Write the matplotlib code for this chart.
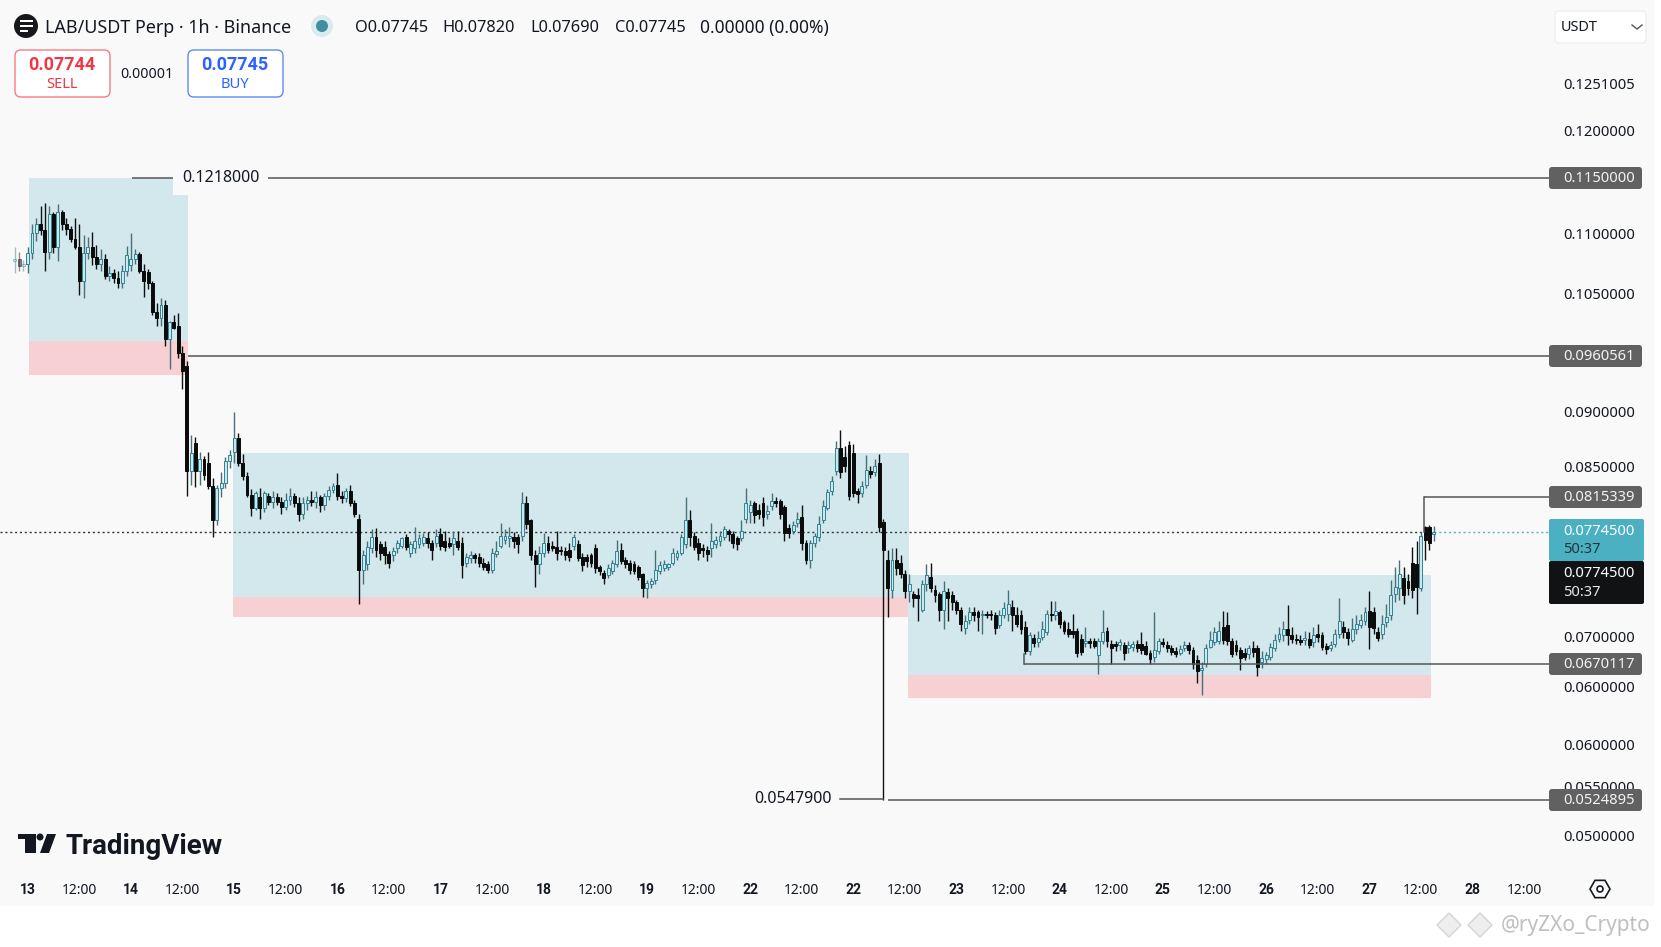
import numpy as np
import matplotlib
matplotlib.use("Agg")
import matplotlib.pyplot as plt
from matplotlib.colors import to_rgba
from matplotlib.patches import Rectangle, FancyBboxPatch, Circle, Polygon, RegularPolygon
from matplotlib.transforms import Affine2D, ScaledTranslation

plt.rcParams['font.family'] = ['Noto Sans', 'DejaVu Sans']

W, H = 1661, 947

# hourly candles, in units of 0.0001 USDT, first candle is 3h before the "13" tick
opens = [
    1078,1080,1074,1076,1085,1102,1110,1104,1086,1118,
    1090,1120,1110,1105,1097,1090,1062,1085,1090,1082,
    1076,1080,1066,1068,1064,1060,1070,1075,1080,1084,
    1070,1069,1060,1025,1016,1035,985,1010,1005,965,
    950,846,873,846,858,855,829,789,826,832,
    856,865,877,855,840,818,803,815,803,816,
    809,815,810,804,812,816,808,795,808,812,
    810,815,806,816,824,830,816,814,822,808,
    790,748,752,763,771,766,764,759,758,763,
    765,771,760,763,766,767,770,767,767,773,
    768,767,766,768,767,753,756,758,757,753,
    752,748,759,765,769,770,771,771,772,808,
    788,758,752,760,767,765,764,762,761,762,
    765,766,757,757,758,763,750,746,744,747,
    752,762,755,753,752,750,745,735,738,741,
    747,749,750,753,757,760,766,788,772,767,
    763,762,763,766,768,771,776,773,770,770,
    790,798,808,800,808,796,805,811,811,804,
    779,776,785,792,767,755,767,771,788,803,
    822,847,868,860,871,864,822,820,830,847,
    845,855,786,755,734,755,753,745,733,731,
    730,720,738,743,734,731,720,732,730,725,
    720,707,713,718,718,716,717,717,716,709,
    716,717,722,716,716,708,685,700,695,701,
    704,717,716,718,711,706,705,705,699,694,
    697,696,680,697,705,693,693,692,692,688,
    690,693,693,691,683,678,685,695,692,689,
    685,683,689,692,686,675,665,670,690,695,
    697,708,709,697,692,686,683,682,688,688,
    672,676,678,688,699,702,706,702,699,698,
    698,699,695,703,702,691,688,693,703,708,
    704,698,706,709,712,719,718,704,703,711,
    716,731,735,742,740,753,752,735,780,780,
    773,
]
highs = [
    1090,1086,1079,1090,1110,1115,1125,1128,1125,1120,
    1127,1122,1115,1108,1115,1110,1100,1098,1103,1092,
    1088,1084,1074,1072,1070,1075,1091,1102,1088,1086,
    1076,1072,1062,1038,1045,1042,1012,1020,1023,975,
    955,880,878,865,861,865,838,830,845,860,
    866,901,882,863,845,825,822,826,822,820,
    822,820,815,820,826,820,815,815,816,823,
    822,818,820,828,832,844,822,826,830,812,
    796,762,768,778,779,768,768,761,764,769,
    771,773,768,780,773,774,775,769,778,779,
    776,771,776,776,771,760,761,760,760,756,
    754,763,768,785,778,780,775,773,821,817,
    790,762,765,774,772,768,776,765,764,767,
    773,769,760,759,760,766,751,748,752,755,
    769,767,757,755,754,751,746,741,742,762,
    754,755,753,763,762,773,815,800,775,770,
    766,765,785,772,776,781,778,776,772,788,
    826,812,811,807,815,806,820,815,813,806,
    784,787,798,806,769,769,774,793,812,825,
    840,875,885,870,875,872,826,834,862,852,
    858,863,790,762,763,763,758,748,745,733,
    735,741,752,753,737,732,740,735,733,727,
    722,716,722,722,720,720,719,720,718,720,
    725,734,727,722,720,712,704,703,705,712,
    720,726,726,720,713,711,717,707,703,708,
    700,700,700,720,708,698,697,699,695,696,
    697,698,704,697,686,718,700,700,697,692,
    690,692,697,695,690,680,672,693,705,708,
    712,719,718,700,698,690,688,692,696,692,
    685,684,694,703,708,712,723,708,703,702,
    705,704,708,710,704,694,697,706,728,712,
    707,714,716,717,722,733,722,708,716,724,
    741,750,755,750,745,764,768,775,781,783,
    782,
]
lows = [
    1068,1070,1070,1068,1080,1095,1100,1070,1080,1085,
    1078,1104,1100,1094,1088,1050,1045,1080,1075,1072,
    1070,1063,1062,1060,1056,1056,1066,1070,1076,1068,
    1047,1055,1020,1004,1005,975,947,1000,958,925,
    817,830,827,830,836,825,771,783,815,826,
    850,855,852,836,815,793,800,790,798,806,
    803,806,796,800,806,804,787,790,800,805,
    802,798,800,812,820,812,808,810,805,792,
    724,738,748,760,757,755,752,749,754,760,
    763,762,757,760,763,765,763,755,764,762,
    761,763,758,762,742,750,753,753,750,748,
    746,746,757,763,766,764,763,760,768,778,
    755,736,745,757,760,761,755,758,755,754,
    762,754,747,750,750,746,744,738,742,745,
    750,752,749,745,745,741,729,728,735,738,
    745,747,748,751,755,758,763,765,762,755,
    757,754,757,763,765,769,768,763,762,768,
    785,785,785,790,782,790,800,804,790,768,
    770,773,780,762,752,749,764,768,785,800,
    818,842,838,845,812,815,808,815,826,838,
    840,775,525,715,728,744,742,728,725,722,
    712,718,733,732,725,712,706,712,720,717,
    705,703,710,712,705,703,714,713,703,707,
    714,712,705,708,703,682,680,690,690,698,
    702,712,713,707,703,701,700,678,680,690,
    688,688,662,693,690,670,685,686,675,683,
    685,684,682,680,670,672,682,690,684,680,
    678,680,685,682,666,654,644,668,688,692,
    693,693,692,678,680,665,675,676,678,660,
    667,670,675,685,695,696,692,694,693,692,
    692,688,690,695,686,682,685,690,700,700,
    692,695,703,707,709,687,703,696,699,708,
    713,725,727,724,730,728,717,733,755,762,
    768,
]
closes = [
    1080,1074,1076,1085,1102,1110,1104,1086,1118,1090,
    1120,1110,1105,1097,1090,1062,1085,1090,1082,1076,
    1080,1066,1068,1064,1060,1070,1083,1080,1084,1070,
    1062,1060,1025,1016,1035,985,1010,1002,965,945,
    846,864,846,858,842,829,789,826,832,856,
    862,877,855,840,818,803,820,803,820,809,
    815,810,804,812,816,808,795,808,812,810,
    815,806,816,824,828,816,814,822,808,796,
    748,758,764,771,762,760,758,753,761,767,
    770,764,766,768,770,771,767,762,772,765,
    764,765,770,764,751,757,758,756,753,750,
    748,760,761,772,772,772,768,766,808,784,
    758,752,760,767,762,763,760,761,758,757,
    771,756,751,754,753,749,747,742,749,753,
    761,754,752,748,747,743,735,739,740,748,
    751,752,752,760,760,771,788,771,764,760,
    762,759,768,769,772,778,773,767,766,776,
    808,806,794,795,792,799,811,808,796,774,
    774,783,790,767,755,767,772,784,805,821,
    835,868,845,852,816,820,819,828,848,843,
    852,780,762,735,755,749,745,733,738,728,
    728,738,744,735,730,720,733,728,725,720,
    710,712,718,716,715,717,716,716,707,716,
    721,724,716,710,706,685,702,694,700,706,
    717,716,719,710,705,703,703,683,684,697,
    694,691,696,704,696,688,691,695,683,692,
    693,689,686,682,676,686,696,693,688,684,
    682,687,692,686,670,664,667,688,698,704,
    705,698,696,682,685,677,678,688,684,668,
    677,680,690,698,703,706,702,699,698,695,
    700,692,702,701,690,687,692,703,712,704,
    700,706,710,713,718,708,707,700,710,715,
    730,736,745,730,735,734,736,772,769,767,
    775,
]

# right axis, some labels in the picture do not follow their spacing
price_ticks = [0.125, 0.12, 0.11, 0.105, 0.09, 0.085, 0.07, 0.065, 0.06, 0.055, 0.05]
price_labels = ['0.1251005', '0.1200000', '0.1100000', '0.1050000', '0.0900000', '0.0850000',
                '0.0700000', '0.0600000', '0.0600000', '0.0550000', '0.0500000']
# price scale of the picture is uneven, so it is pinned on these levels
scale_prices = [0.0466, 0.05, 0.0524895, 0.055, 0.06, 0.065, 0.0670117, 0.07, 0.07745, 0.0815339,
                0.085, 0.09, 0.0960561, 0.105, 0.11, 0.115, 0.12, 0.125, 0.1335]
scale_rows = [870, 837, 800, 788, 746, 688, 664, 638, 532, 497, 468, 413, 356, 295, 235, 178, 132, 85, 0]

time_ticks = list(range(0, 349, 12))
day_labels = ['13', '14', '15', '16', '17', '18', '19', '22', '22', '23', '24', '25', '26', '27', '28']
time_labels = []
for d in day_labels:
    time_labels += [d, '12:00']
time_labels = time_labels[:len(time_ticks)]

# zones: hour start, hour end, top, middle, bottom price
zone_start = [0.3, 47.8, 204.7]
zone_end = [37.3, 205.0, 326.4]
zone_top = [0.115, 0.0864, 0.0744]
zone_mid = [0.09826, 0.0729, 0.0661]
zone_bottom = [0.0940, 0.0715, 0.0641]

# tagged levels: price, first hour of the line
level_prices = [0.115, 0.0960561, 0.0815339, 0.0670117, 0.0524895]
level_start = [24.2, 37.3, 324.7, 231.7, 200.0]
level_tags = ['0.1150000', '0.0960561', '0.0815339', '0.0670117', '0.0524895']

hours = np.arange(len(closes)) - 3
o = np.array(opens) / 1e4
h = np.array(highs) / 1e4
l = np.array(lows) / 1e4
c = np.array(closes) / 1e4

BG = '#f9f9f9'
INK = '#131722'

fig = plt.figure(figsize=(W / 100, H / 100), dpi=100, facecolor='white')
px = Affine2D().scale(1, -1).translate(0, H)  # picture pixels, origin top left

fig.add_artist(Rectangle((0, 0), 1654, 906, transform=px, fc=BG, ec='none', zorder=-5))

AX_RIGHT = 1549
AX_BOTTOM = 870
ax = fig.add_axes([0, (H - AX_BOTTOM) / H, AX_RIGHT / W, AX_BOTTOM / H])
ax.patch.set_visible(False)
for s in ax.spines.values():
    s.set_visible(False)


def to_row(v):
    return np.interp(v, scale_prices, -np.array(scale_rows, dtype=float))


def from_row(r):
    return np.interp(r, -np.array(scale_rows, dtype=float), scale_prices)


ax.set_yscale('function', functions=(to_row, from_row))
ax.set_ylim(scale_prices[0], scale_prices[-1])
ax.set_xlim(-6.44, 353.8)

ax.yaxis.tick_right()
ax.set_yticks(price_ticks, price_labels)
ax.yaxis.set_minor_locator(matplotlib.ticker.NullLocator())
ax.tick_params(axis='y', length=0, pad=10, labelsize=10.6, labelcolor=INK)
lift = ScaledTranslation(0, 1.5 / 100, fig.dpi_scale_trans)
for t in ax.get_yticklabels():
    t.set_transform(t.get_transform() + lift)
ax.set_xticks(time_ticks, time_labels)
ax.tick_params(axis='x', length=0, pad=9, labelsize=10, labelcolor=INK)
for t in ax.get_xticklabels():
    if ':' not in t.get_text():
        t.set_family('Roboto')
        t.set_fontweight('bold')

# zones
for x0, x1, top, mid, bot in zip(zone_start, zone_end, zone_top, zone_mid, zone_bottom):
    ax.fill_between([x0, x1], mid, top, color='#d3e8ec', lw=0, zorder=1)
    ax.fill_between([x0, x1], bot, mid, color='#f6d0d2', lw=0, zorder=1)

# last price line
ax.plot([-6.44, 326], [0.07745, 0.07745], color='#333333', lw=1, ls=(0, (1.5, 2)), zorder=2)
ax.plot([326, 353.8], [0.07745, 0.07745], color='#56b4c6', lw=1, ls=(0, (1.5, 2)), zorder=2)

# candles
up = c >= o
fade = [0.45 if x < 0 else 1.0 for x in hours]
wick_cols = [to_rgba('#46707a' if u else '#111111', a) for u, a in zip(up, fade)]
body_cols = [to_rgba('#cfe6eb' if u else '#0b0b0b', a) for u, a in zip(up, fade)]
edge_cols = [to_rgba('#2f8494' if u else '#0b0b0b', a) for u, a in zip(up, fade)]
ax.vlines(hours, l, h, colors=wick_cols, lw=1.0, zorder=3)
ax.bar(hours, np.abs(c - o), bottom=np.minimum(o, c), width=0.68, color=body_cols,
       edgecolor=edge_cols, lw=0.7, zorder=4)

# levels
LINE = '#555555'
for price, start in zip(level_prices, level_start):
    ax.plot([start, 353.8], [price, price], color=LINE, lw=1.1, zorder=5, solid_capstyle='butt')
ax.plot([324.7, 324.7], [0.0775, 0.0815339], color=LINE, lw=1.1, zorder=5)
ax.plot([231.7, 231.7], [0.0670117, 0.0682], color=LINE, lw=1.1, zorder=5)
ax.plot([189.0, 199.0], [0.0528, 0.0528], color=LINE, lw=1.1, zorder=5)
ax.text(44.9, 0.115, '0.1218000', ha='center', va='center', fontsize=11.5, color=INK, zorder=6,
        bbox=dict(fc=BG, ec='none', boxstyle='square,pad=0.55'))
ax.text(178, 0.0528, '0.0547900', ha='center', va='center', fontsize=11.5, color=INK, zorder=6)

# axis tags
fig.canvas.draw()
for price, tag in zip(level_prices, level_tags):
    row = H - ax.transData.transform((0, price))[1]
    fig.add_artist(FancyBboxPatch((1549, row - 11), 93, 22, boxstyle='round,pad=0,rounding_size=3',
                                  transform=px, fc='#616161', ec='none', zorder=2))
    fig.text(1563, row, tag, transform=px, color='#f2f2f2', fontsize=10.6, va='center', zorder=3)

row = H - ax.transData.transform((0, 0.07745))[1]
fig.add_artist(FancyBboxPatch((1549, row - 13), 95, 42, boxstyle='round,pad=0,rounding_size=2',
                              transform=px, fc='#4bb0c2', ec='none', zorder=2))
fig.add_artist(FancyBboxPatch((1549, row + 29), 95, 43, boxstyle='round,pad=0,rounding_size=2',
                              transform=px, fc='#101214', ec='none', zorder=2))
fig.text(1563, row - 1, '0.0774500', transform=px, color='white', fontsize=10.6, va='center', zorder=3)
fig.text(1563, row + 17, '50:37', transform=px, color='#22343a', fontsize=10.6, va='center', zorder=3)
fig.text(1563, row + 41, '0.0774500', transform=px, color='white', fontsize=10.6, va='center', zorder=3)
fig.text(1563, row + 60, '50:37', transform=px, color='#e8e8e8', fontsize=10.6, va='center', zorder=3)

# header
fig.add_artist(Circle((26, 26), 12, transform=px, fc='#16181c', ec='none', zorder=2))
for y0, x0, x1 in [(21, 20, 33), (26, 20, 33), (31, 20, 28)]:
    fig.add_artist(Rectangle((x0, y0 - 1), x1 - x0, 2, transform=px, fc='white', ec='none', zorder=3))
fig.text(45, 28, 'LAB/USDT Perp · 1h · Binance', transform=px, fontsize=12.9, color=INK, va='center')
fig.add_artist(Circle((322, 26), 11, transform=px, fc='#d8ebef', ec='none', zorder=2))
fig.add_artist(Circle((322, 26), 6, transform=px, fc='#3f8f9f', ec='none', zorder=3))
for x0, s in [(355, 'O0.07745'), (442, 'H0.07820'), (530, 'L0.07690'), (615, 'C0.07745')]:
    fig.text(x0, 28, s, transform=px, fontsize=11.8, color=INK, va='center')
fig.text(700, 28, '0.00000 (0.00%)', transform=px, fontsize=12.5, color=INK, va='center')

fig.add_artist(FancyBboxPatch((15, 50), 95, 47, boxstyle='round,pad=0,rounding_size=6', transform=px,
                              fc='white', ec='#f77c80', lw=1, zorder=2))
fig.text(62, 65, '0.07744', transform=px, fontsize=13, color='#f23645', family='Roboto',
         fontweight='bold', ha='center', va='center')
fig.text(62, 84, 'SELL', transform=px, fontsize=10.6, color='#f23645', ha='center', va='center')
fig.text(147, 74, '0.00001', transform=px, fontsize=10.2, color=INK, ha='center', va='center')
fig.add_artist(FancyBboxPatch((188, 50), 95, 47, boxstyle='round,pad=0,rounding_size=6', transform=px,
                              fc='white', ec='#5b8def', lw=1, zorder=2))
fig.text(235, 65, '0.07745', transform=px, fontsize=13, color='#2962ff', family='Roboto',
         fontweight='bold', ha='center', va='center')
fig.text(235, 84, 'BUY', transform=px, fontsize=10.6, color='#2962ff', ha='center', va='center')

# currency selector
fig.add_artist(FancyBboxPatch((1555, 11), 91, 32, boxstyle='round,pad=0,rounding_size=4', transform=px,
                              fc='white', ec='#eeeeee', lw=1, zorder=2))
fig.text(1561, 27, 'USDT', transform=px, fontsize=10.4, color=INK, va='center')
fig.add_artist(plt.Line2D([1632, 1637, 1642], [25, 29, 25], transform=px, color='#555555', lw=1))

# logo
fig.add_artist(Polygon([(18, 834), (36, 834), (36, 853), (25, 853), (25, 839), (18, 839)], transform=px,
                       fc='#131722', ec='none', zorder=2))
fig.add_artist(Circle((40, 837), 3.5, transform=px, fc='#131722', ec='none', zorder=2))
fig.add_artist(Polygon([(47, 834), (56, 834), (49, 853), (40, 853)], transform=px, fc='#131722',
                       ec='none', zorder=2))
fig.text(65, 846, 'TradingView', transform=px, fontsize=20, family='Roboto', fontweight='bold',
         color='#131722', va='center')

# settings icon
fig.add_artist(RegularPolygon((1600, 889), 6, radius=10, orientation=np.pi / 6, transform=px, fc='none',
                              ec=INK, lw=1.2))
fig.add_artist(Circle((1600, 889), 3, transform=px, fc='none', ec=INK, lw=1.2))

# watermark
for cx in [1449, 1480]:
    fig.add_artist(Polygon([(cx - 12, 925), (cx, 913), (cx + 12, 925), (cx, 937)], transform=px, fc='#eeeeee',
                           ec='#d4d4d4', lw=1, zorder=2))
fig.text(1501, 925, '@ryZXo_Crypto', transform=px, fontsize=15, color='#bfbfbf', va='center')

fig.savefig('out.png', dpi=100)
